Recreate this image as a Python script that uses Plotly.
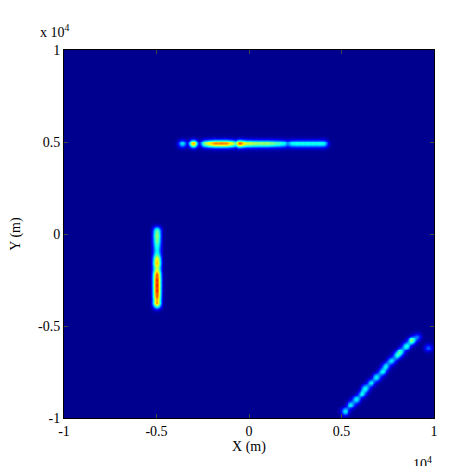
import numpy as np
import plotly.graph_objects as go

# point sources (x, y in units of 1e4 m) and peak strength
h_x = [-0.36, -0.30, -0.24, -0.21, -0.18, -0.15, -0.12, -0.09, -0.05, -0.02, 0.01, 0.04, 0.07,
       0.10, 0.13, 0.16, 0.19, 0.23, 0.26, 0.29, 0.32, 0.35, 0.38, 0.41]
h_y = [0.49] * len(h_x)
h_v = [0.5, 1.0, 0.6, 0.75, 0.85, 0.85, 0.85, 0.7, 1.0, 0.65, 0.65, 0.6, 0.6,
       0.6, 0.55, 0.5, 0.45, 0.45, 0.45, 0.45, 0.45, 0.45, 0.45, 0.45]

v_y = [0.02, -0.01, -0.04, -0.07, -0.10, -0.13, -0.16, -0.19, -0.22, -0.25, -0.28, -0.31, -0.34, -0.37, -0.39]
v_x = [-0.497] * len(v_y)
v_v = [0.55, 0.6, 0.55, 0.45, 0.4, 0.7, 0.8, 0.6, 0.9, 0.95, 0.95, 0.95, 0.9, 0.7, 0.5]

d_x = [0.52, 0.55, 0.58, 0.61, 0.63, 0.66, 0.69, 0.72, 0.74, 0.77, 0.80, 0.82, 0.85, 0.88, 0.91, 0.97]
d_y = [-0.965, -0.93, -0.90, -0.87, -0.84, -0.81, -0.78, -0.75, -0.72, -0.69, -0.66, -0.64, -0.61, -0.58, -0.56, -0.62]
d_v = [0.5, 0.5, 0.5, 0.5, 0.5, 0.5, 0.5, 0.5, 0.5, 0.5, 0.5, 0.52, 0.55, 0.7, 0.3, 0.3]

px = h_x + v_x + d_x
py = h_y + v_y + d_y
pv = h_v + v_v + d_v

g = np.linspace(-1, 1, 401)
X, Y = np.meshgrid(g, g)
Z = np.zeros_like(X)
sig = 0.015
for x0, y0, a in zip(px, py, pv):
    Z += 0.7 * a * np.exp(-((X - x0) ** 2 + (Y - y0) ** 2) / (2 * sig ** 2))

jet = [[0, "#00008f"], [0.125, "#0000ff"], [0.375, "#00ffff"], [0.625, "#ffff00"],
       [0.875, "#ff0000"], [1, "#800000"]]

fig = go.Figure(go.Heatmap(x=g, y=g, z=Z, colorscale=jet, zmin=0, zmax=1, showscale=False))
font = dict(family="Liberation Serif", size=14, color="black")
ax = dict(range=[-1, 1], tickvals=[-1, -0.5, 0, 0.5, 1], ticktext=["-1", "-0.5", "0", "0.5", "1"],
          ticks="inside", ticklen=4, showline=True, linecolor="black", mirror="ticks",
          showgrid=False, zeroline=False, tickfont=font, automargin=False)
fig.update_layout(
    width=458, height=458, margin=dict(l=56, r=32, t=42, b=48),
    paper_bgcolor="white", plot_bgcolor="white", font=font,
    xaxis=dict(ax, title=dict(text="X (m)", font=font, standoff=2)),
    yaxis=dict(ax, title=dict(text="Y (m)", font=font, standoff=34)),
    annotations=[
        dict(text="x 10<sup>4</sup>", x=0, y=1, xref="paper", yref="paper", xanchor="left",
             yanchor="bottom", xshift=-26, yshift=8, showarrow=False, font=font),
        dict(text="10<sup>4</sup>", x=1, y=0, xref="paper", yref="paper", xanchor="right",
             yanchor="top", yshift=-34, showarrow=False, font=font),
    ],
)
fig.write_html("out.html")
